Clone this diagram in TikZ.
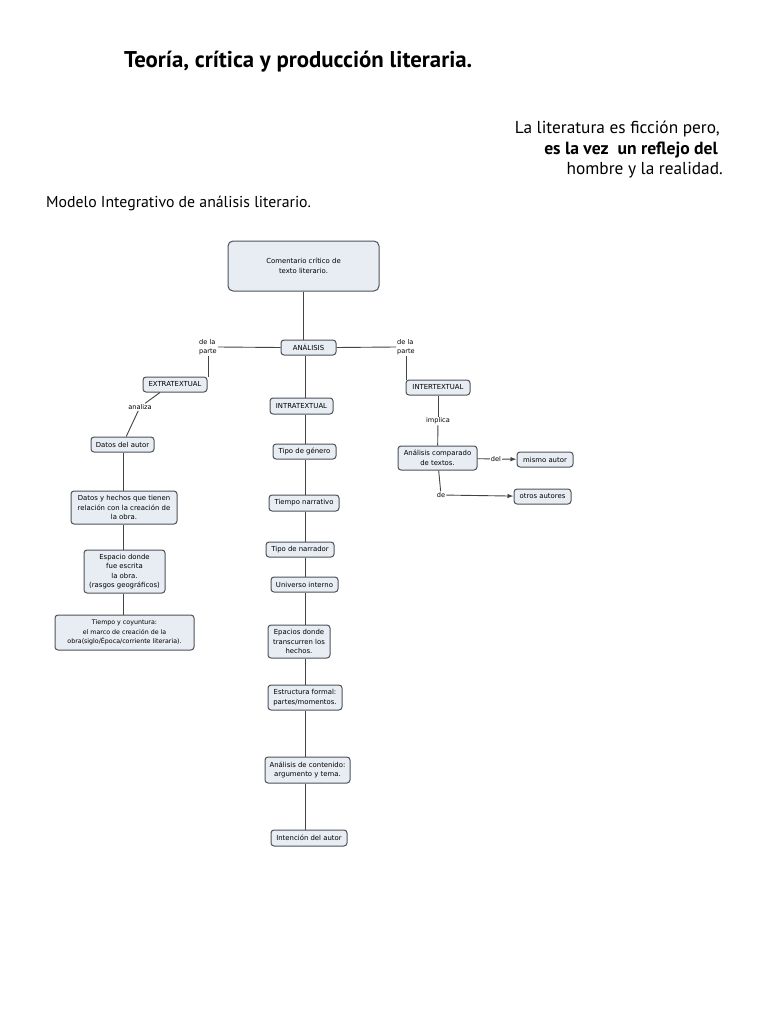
\documentclass[tikz,border=0pt]{standalone}
\usepackage{fontspec}
\setmainfont{PT Sans}
\newfontfamily\nodefont{DejaVu Sans}
\usetikzlibrary{arrows.meta}
\definecolor{boxfill}{HTML}{E7EDF3}
\definecolor{boxline}{HTML}{4E5358}
\definecolor{lineclr}{HTML}{444444}
\begin{document}
\begin{tikzpicture}[x=1pt,y=-1pt,
 cbox/.style={draw=boxline, fill=boxfill, rounded corners=3pt, line width=1pt, align=center, inner sep=0pt, font=\nodefont\fontsize{6.9}{9.6}\selectfont},
 lbl/.style={align=left, inner sep=1pt, font=\nodefont\fontsize{6.6}{9.3}\selectfont},
 conn/.style={draw=lineclr, line width=0.9pt},
 arr/.style={conn, -{Latex[length=6pt,width=4.5pt]}}
]
\useasboundingbox (0,0) rectangle (768,1024);
\fill[white] (0,0) rectangle (768,1024);
\coordinate (cx) at (305,0);
\coordinate (lx) at (123,0);

% headers
\node[anchor=west, inner sep=0pt] (title) at (124,62) {\fontsize{22.8}{26}\selectfont\bfseries Teoría, crítica y producción literaria.};
\node[anchor=east, inner sep=0pt] (q1) at (720,129) {\fontsize{17.3}{19}\selectfont La literatura es ficción pero,};
\node[anchor=east, inner sep=0pt] (q2) at (718,150) {\fontsize{17.6}{19}\selectfont\bfseries es la vez\ \ un reflejo del};
\node[anchor=east, inner sep=0pt] (q3) at (723,170) {\fontsize{17.3}{19}\selectfont hombre y la realidad.};
\node[anchor=west, inner sep=0pt] (modelo) at (46,203) {\fontsize{15.8}{18}\selectfont Modelo Integrativo de análisis literario.};

% center column
\node[cbox, rounded corners=5pt, minimum width=151pt, minimum height=50pt] (com) at (303.5,266) {Comentario crítico de\\texto literario.};
\node[cbox, minimum width=55pt, minimum height=15pt] (ana) at (308.5,347.5) {ANÁLISIS};
\node[cbox, minimum width=63pt, minimum height=16pt] (intra) at (301.5,406) {INTRATEXTUAL};
\node[cbox, minimum width=63pt, minimum height=15pt] (genero) at (304.5,451.5) {Tipo de género};
\node[cbox, minimum width=70pt, minimum height=16pt] (tnarr) at (304,503) {Tiempo narrativo};
\node[cbox, minimum width=68pt, minimum height=15pt] (tnarrad) at (300,549.5) {Tipo de narrador};
\node[cbox, minimum width=67pt, minimum height=15pt] (univ) at (304.5,584.5) {Universo interno};
\node[cbox, minimum width=62pt, minimum height=33pt] (epac) at (299,641.5) {Epacios donde\\transcurren los\\hechos.};
\node[cbox, minimum width=74pt, minimum height=25pt] (estr) at (305,697.5) {Estructura formal:\\partes/momentos.};
\node[cbox, minimum width=85pt, minimum height=26pt] (acont) at (307.5,770) {Análisis de contenido:\\argumento y tema.};
\node[cbox, minimum width=76pt, minimum height=16pt] (inten) at (309,838) {Intención del autor};

% left column
\node[cbox, minimum width=64pt, minimum height=15pt] (extra) at (175,384.5) {EXTRATEXTUAL};
\node[cbox, minimum width=63pt, minimum height=15pt] (dautor) at (122.5,444.5) {Datos del autor};
\node[cbox, minimum width=106pt, minimum height=33pt] (dhech) at (124,507.5) {Datos y hechos que tienen\\relación con la creación de\\la obra.};
\node[cbox, minimum width=81pt, minimum height=43pt] (esp) at (124.5,571.5) {Espacio donde\\fue escrita\\la obra.\\(rasgos geográficos)};
\node[cbox, minimum width=139pt, minimum height=35pt, font=\nodefont\fontsize{6.3}{9.4}\selectfont] (tiempo) at (124.5,632.5) {Tiempo y coyuntura:\\el marco de creación de la\\obra(siglo/Época/corriente literaria).};

% right column
\node[cbox, minimum width=64pt, minimum height=15pt] (inter) at (438,387.5) {INTERTEXTUAL};
\node[cbox, minimum width=79pt, minimum height=24pt] (acomp) at (437.5,458) {Análisis comparado\\de textos.};
\node[cbox, minimum width=56pt, minimum height=15pt] (mismo) at (545,459.5) {mismo autor};
\node[cbox, minimum width=57pt, minimum height=15pt] (otros) at (542.5,496.5) {otros autores};

% linking labels
\node[lbl] (lblL) at (208,347) {de la\\parte};
\node[lbl] (lblR) at (406,347) {de la\\parte};
\node[lbl] (analiza) at (140,407) {analiza};
\node[lbl] (implica) at (438,421) {implica};
\node[lbl] (del) at (496,459) {del};
\node[lbl] (de) at (441,495) {de};

% connectors center
\draw[conn] (com.south) -- (com.south |- ana.north);
\draw[conn] (intra.north -| cx) -- (ana.south -| cx);
\draw[conn] (intra.south -| cx) -- (genero.north -| cx);
\draw[conn] (genero.south -| cx) -- (tnarr.north -| cx);
\draw[conn] (tnarr.south -| cx) -- (tnarrad.north -| cx);
\draw[conn] (tnarrad.south -| cx) -- (univ.north -| cx);
\draw[conn] (univ.south -| cx) -- (epac.north -| cx);
\draw[conn] (epac.south -| cx) -- (estr.north -| cx);
\draw[conn] (estr.south -| cx) -- (acont.north -| cx);
\draw[conn] (acont.south -| cx) -- (inten.north -| cx);

% connectors left
\draw[conn] (ana.west) -- (lblL.east);
\draw[conn] (lblL.south) -- (lblL.south |- extra.north);
\draw[conn] ([xshift=-15pt]extra.south) -- (analiza);
\draw[conn] (analiza) -- (dautor);
\draw[conn] (dautor.south -| lx) -- (dhech.north -| lx);
\draw[conn] (dhech.south -| lx) -- (esp.north -| lx);
\draw[conn] (esp.south -| lx) -- (tiempo.north -| lx);

% connectors right
\draw[conn] (ana.east) -- (lblR.west);
\draw[conn] (lblR.south) -- (lblR.south |- inter.north);
\draw[conn] (inter) -- (implica);
\draw[conn] (implica) -- (acomp);
\draw[conn] (acomp) -- (del);
\draw[arr] (del) -- (mismo);
\draw[conn] (acomp) -- (de);
\draw[arr] (de) -- (otros);
\end{tikzpicture}
\end{document}
